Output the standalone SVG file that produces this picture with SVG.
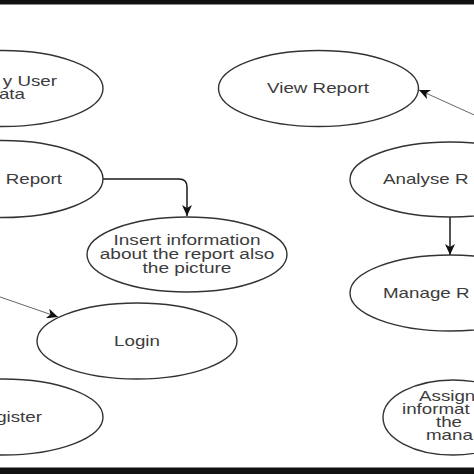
<svg xmlns="http://www.w3.org/2000/svg" width="474" height="474" viewBox="0 0 474 474">
<style>
.n ellipse{fill:#fff;stroke:#333;stroke-width:1.4}
text{font-family:"Liberation Sans",Arial,sans-serif;font-size:14px;fill:#3c3c3c}
.c{fill:none}
.thick{stroke:#1a1a1a;stroke-width:1.5}
.thin{stroke:#666;stroke-width:1}
</style>
<defs>
<marker id="ah" markerUnits="userSpaceOnUse" markerWidth="12" markerHeight="10" refX="11" refY="5" orient="auto">
<path d="M0,0 L11,5 L0,10 L3,5 z" fill="#111"/>
</marker>
</defs>
<rect x="0" y="0" width="474" height="4" fill="#111"/>
<rect x="0" y="4" width="474" height="1" fill="#888"/>
<rect x="0" y="467.5" width="474" height="6.5" fill="#111"/>

<g id="connectors">
<path class="c thick" d="M103,179 H179 Q187,179 187,187 V216" marker-end="url(#ah)"/>
<path class="c thick" d="M450,217 V255" marker-end="url(#ah)"/>
<path class="c thin" d="M482,118.5 L419,90" marker-end="url(#ah)"/>
<path class="c thin" d="M-10,293.5 L58,317" marker-end="url(#ah)"/>
</g>

<g id="verify" class="n">
<ellipse cx="3" cy="88.5" rx="100" ry="38"/>
<text transform="translate(57,86) scale(1.34,1)" text-anchor="end">y User</text>
<text transform="translate(25,99) scale(1.34,1)" text-anchor="end">ata</text>
</g>
<g id="report" class="n">
<ellipse cx="3" cy="179" rx="100" ry="38.5"/>
<text transform="translate(62,184) scale(1.34,1)" text-anchor="end">Report</text>
</g>
<g id="insert" class="n">
<ellipse cx="187" cy="254.5" rx="100" ry="37.5"/>
<text transform="translate(187,245) scale(1.36,1)" text-anchor="middle">Insert information</text>
<text transform="translate(187,259) scale(1.36,1)" text-anchor="middle">about the report also</text>
<text transform="translate(187,273) scale(1.36,1)" text-anchor="middle">the picture</text>
</g>
<g id="login" class="n">
<ellipse cx="137" cy="341" rx="100" ry="38"/>
<text transform="translate(137,346) scale(1.34,1)" text-anchor="middle">Login</text>
</g>
<g id="register" class="n">
<ellipse cx="3" cy="417" rx="100" ry="38"/>
<text transform="translate(42,422) scale(1.34,1)" text-anchor="end">gister</text>
</g>
<g id="view" class="n">
<ellipse cx="318.5" cy="88.5" rx="100" ry="38"/>
<text transform="translate(318,93) scale(1.34,1)" text-anchor="middle">View Report</text>
</g>
<g id="analyse" class="n">
<ellipse cx="450" cy="179.5" rx="100" ry="37.5"/>
<text transform="translate(383,184) scale(1.34,1)">Analyse R</text>
</g>
<g id="manage" class="n">
<ellipse cx="450" cy="293" rx="100" ry="38"/>
<text transform="translate(383,298) scale(1.34,1)">Manage R</text>
</g>
<g id="assign" class="n">
<ellipse cx="453" cy="417.5" rx="70" ry="37.5"/>
<text transform="translate(419,401) scale(1.34,1)">Assign</text>
<text transform="translate(402,414) scale(1.34,1)">informat</text>
<text transform="translate(449,427) scale(1.34,1)" text-anchor="middle">the</text>
<text transform="translate(426,440) scale(1.34,1)">mana</text>
</g>
</svg>
